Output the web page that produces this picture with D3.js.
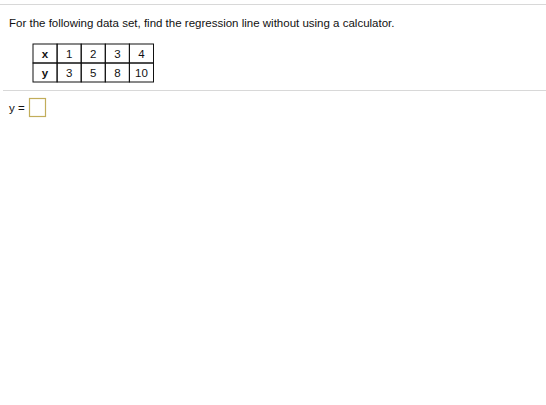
<!DOCTYPE html><html><head><script src="https://cdn.jsdelivr.net/npm/d3@7"></script>
<style>body{margin:0;background:#fff}</style></head><body><script>
const rowLabels=["x","y"];
const xValues=["1","2","3","4"];
const yValues=["3","5","8","10"];
const W=546,H=405;
const svg=d3.select("body").append("svg").attr("width",W).attr("height",H).style("font-family","Liberation Sans, Arial, sans-serif");
svg.append("line").attr("x1",0).attr("x2",W).attr("y1",4.5).attr("y2",4.5).attr("stroke","#d8d8d8");
svg.append("text").attr("x",9).attr("y",27).attr("font-size",11.5).attr("fill","#111").text("For the following data set, find the regression line without using a calculator.");
const cols=d3.scaleBand().domain(d3.range(5)).range([33,153.5]);
const rows=d3.scaleBand().domain([0,1]).range([44,82]);
const data=[[rowLabels[0],...xValues],[rowLabels[1],...yValues]];
data.forEach((r,i)=>r.forEach((v,j)=>{
 svg.append("rect").attr("x",cols(j)).attr("y",rows(i)).attr("width",cols.bandwidth()).attr("height",rows.bandwidth()).attr("fill","none").attr("stroke","#111").attr("stroke-width",1);
 svg.append("text").attr("x",cols(j)+cols.bandwidth()/2).attr("y",rows(i)+rows.bandwidth()/2+4).attr("text-anchor","middle").attr("font-size",11.5).attr("font-weight",j==0?"bold":"normal").attr("fill","#111").text(v);
}));
svg.append("line").attr("x1",3).attr("x2",W).attr("y1",90.5).attr("y2",90.5).attr("stroke","#d8d8d8");
svg.append("text").attr("x",9).attr("y",112).attr("font-size",11.5).attr("fill","#111").text("y =");
svg.append("rect").attr("x",29.5).attr("y",98.5).attr("width",16).attr("height",18).attr("fill","#fff").attr("stroke","#c2ad5a").attr("stroke-width",1.2);
</script></body></html>
